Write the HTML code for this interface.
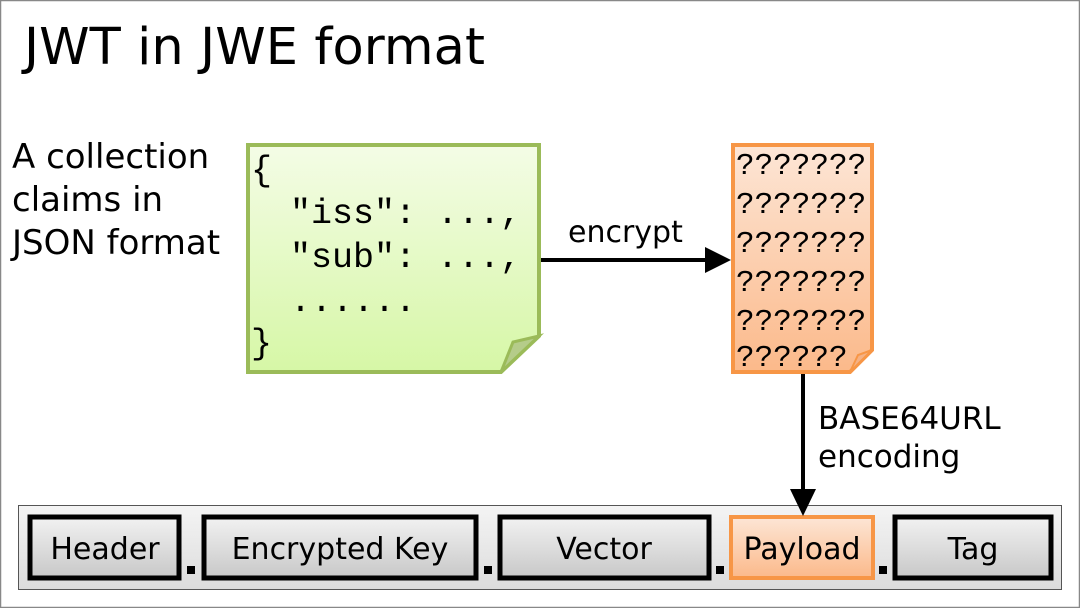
<!DOCTYPE html>
<html><head><meta charset="utf-8"><style>
body{margin:0;width:1080px;height:608px;overflow:hidden;background:#fff}
text{font-family:"DejaVu Sans","Liberation Sans",sans-serif}
text.m{font-family:"Liberation Mono",monospace}
</style></head><body>
<svg width="1080" height="608" xmlns="http://www.w3.org/2000/svg">
<defs>
<linearGradient id="g" x1="0" y1="0" x2="0" y2="1"><stop offset="0" stop-color="#f4fce6"/><stop offset="1" stop-color="#d6f7a6"/></linearGradient>
<linearGradient id="o" x1="0" y1="0" x2="0" y2="1"><stop offset="0" stop-color="#fde6d6"/><stop offset="1" stop-color="#fbb98a"/></linearGradient>
<linearGradient id="b" x1="0" y1="0" x2="0" y2="1"><stop offset="0" stop-color="#f2f2f2"/><stop offset="1" stop-color="#c8c8c8"/></linearGradient>
<linearGradient id="bar" x1="0" y1="0" x2="0" y2="1"><stop offset="0" stop-color="#f4f4f4"/><stop offset="1" stop-color="#dcdcdc"/></linearGradient>
</defs>
<rect x="0.5" y="0.5" width="1079" height="607" fill="#fff" stroke="#888" stroke-width="1.5"/>
<text x="24" y="64" font-size="51" textLength="461">JWT in JWE format</text>
<text font-size="34"><tspan x="12" y="168">A collection</tspan><tspan x="12" y="211">claims in</tspan><tspan x="12" y="254">JSON format</tspan></text>
<path d="M248 145 H539 V336 L501 372 H248 Z" fill="url(#g)" stroke="#9bbb59" stroke-width="4"/>
<path d="M539 336 L513 342 L501 372 Z" fill="#b5cc8a" stroke="#9bbb59" stroke-width="3"/>
<text class="m" font-size="35"><tspan x="251" y="180">{</tspan><tspan x="290" y="223">"iss": ...,</tspan><tspan x="290" y="267">"sub": ...,</tspan><tspan x="290" y="311">......</tspan><tspan x="251" y="353">}</tspan></text>
<path d="M733 145 H872 V350 L850 372 H733 Z" fill="url(#o)" stroke="#f79646" stroke-width="4"/>
<path d="M872 350 L858 355 L850 372 Z" fill="#f5b184" stroke="#f79646" stroke-width="2"/>
<text class="m" font-size="31"><tspan x="736" y="174">???????</tspan><tspan x="736" y="213">???????</tspan><tspan x="736" y="252">???????</tspan><tspan x="736" y="291">???????</tspan><tspan x="736" y="330">???????</tspan><tspan x="736" y="366">??????</tspan></text>
<line x1="541" y1="260" x2="708" y2="260" stroke="#000" stroke-width="4"/>
<path d="M705 247 L731 260 L705 273 Z" fill="#000"/>
<text x="568" y="242" font-size="30">encrypt</text>
<text font-size="31"><tspan x="818" y="429">BASE64URL</tspan><tspan x="818" y="467">encoding</tspan></text>
<rect x="18.5" y="505.5" width="1043" height="84" fill="url(#bar)" stroke="#555" stroke-width="1"/>
<g stroke="#000" stroke-width="5" fill="url(#b)">
<rect x="30" y="517" width="149" height="61"/>
<rect x="204" y="517" width="272" height="61"/>
<rect x="500" y="517" width="209" height="61"/>
<rect x="895" y="517" width="156" height="61"/>
</g>
<rect x="731" y="517" width="142" height="61" fill="url(#o)" stroke="#f79646" stroke-width="4"/>
<line x1="803" y1="374" x2="803" y2="492" stroke="#000" stroke-width="4"/>
<path d="M790 489 L803 516 L816 489 Z" fill="#000"/>
<g fill="#000"><rect x="187" y="566" width="8" height="8"/><rect x="484" y="566" width="8" height="8"/><rect x="716" y="566" width="8" height="8"/><rect x="879" y="566" width="8" height="8"/></g>
<g font-size="30" text-anchor="middle">
<text x="105" y="559">Header</text>
<text x="340" y="559">Encrypted Key</text>
<text x="604" y="559">Vector</text>
<text x="802" y="559">Payload</text>
<text x="973" y="559">Tag</text>
</g>
</svg>
</body></html>
